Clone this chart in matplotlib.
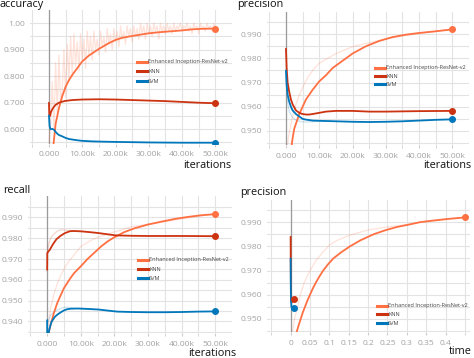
import matplotlib
matplotlib.use("Agg")
import matplotlib.pyplot as plt
from matplotlib.lines import Line2D

plt.rcParams['font.family'] = ['Open Sans', 'DejaVu Sans']

W, H = 474, 358
C_ENH = '#ff7043'
C_KNN = '#cc3311'
C_SVM = '#0077bb'
series_names = ['Enhanced Inception-ResNet-v2', 'KNN', 'SVM']

# ---------------- accuracy (iterations, thousands) ----------------
acc_raw_x = [i * 0.5 for i in range(101)]
acc_raw_enh = [
    0.55, 0.62, 0.78, 0.60, 0.85, 0.66, 0.88, 0.70, 0.75, 0.90,
    0.72, 0.92, 0.78, 0.95, 0.80, 0.96, 0.84, 0.93, 0.82, 0.96,
    0.86, 0.94, 0.83, 0.97, 0.88, 0.95, 0.86, 0.97, 0.90, 0.94,
    0.88, 0.97, 0.91, 0.95, 0.89, 0.98, 0.92, 0.96, 0.90, 0.98,
    0.93, 0.97, 0.91, 0.99, 0.94, 0.97, 0.92, 0.99, 0.95, 0.98,
    0.93, 0.99, 0.95, 0.98, 0.94, 1.00, 0.96, 0.99, 0.94, 1.00,
    0.96, 0.99, 0.95, 1.00, 0.97, 0.99, 0.94, 1.00, 0.97, 0.99,
    0.96, 1.00, 0.97, 0.99, 0.96, 1.00, 0.97, 0.99, 0.98, 1.00,
    0.97, 0.99, 0.98, 1.00, 0.97, 0.99, 0.96, 1.00, 0.98, 0.99,
    0.96, 1.00, 0.98, 0.99, 0.97, 1.00, 0.98, 0.99, 0.97, 1.00,
    0.98]
acc_enh_x = [0.5, 1, 1.5, 2, 3, 4, 5, 6, 7, 8, 10, 12, 15, 18, 20, 22, 25, 28, 30, 33, 36, 40, 43, 46, 50]
acc_enh = [0.45, 0.50, 0.56, 0.62, 0.68, 0.725, 0.76, 0.785, 0.805, 0.822, 0.856, 0.878, 0.903, 0.925,
           0.937, 0.945, 0.952, 0.958, 0.962, 0.966, 0.969, 0.973, 0.977, 0.979, 0.980]
acc_knn_x = [0, 0.1, 0.3, 0.6, 1, 1.5, 2, 3, 4, 5, 7, 10, 15, 20, 25, 30, 35, 40, 45, 50]
acc_knn = [0.700, 0.655, 0.650, 0.665, 0.675, 0.685, 0.692, 0.700, 0.704, 0.707, 0.710, 0.712, 0.713,
           0.712, 0.710, 0.708, 0.706, 0.703, 0.700, 0.698]
acc_svm_x = [0, 0.2, 0.5, 1, 1.5, 2, 2.5, 3, 4, 5, 6, 8, 10, 13, 16, 20, 25, 30, 40, 50]
acc_svm = [0.652, 0.610, 0.600, 0.601, 0.598, 0.590, 0.583, 0.578, 0.573, 0.567, 0.563, 0.559, 0.556,
           0.554, 0.553, 0.552, 0.551, 0.550, 0.549, 0.549]

# ---------------- precision (iterations) ----------------
pre_enh_x = [1.0, 1.5, 2.0, 2.5, 3, 4, 5, 6, 7, 8, 10, 12, 14, 17, 20, 24, 28, 32, 36, 40, 45, 50]
pre_enh = [0.935, 0.942, 0.947, 0.951, 0.953, 0.957, 0.960, 0.963, 0.965, 0.967, 0.9705, 0.973, 0.976,
           0.979, 0.982, 0.985, 0.9872, 0.9888, 0.9898, 0.9905, 0.9912, 0.992]
pre_enh_raw_x = [0.3, 0.8, 1.5, 2.5, 3.5, 5, 6.5, 8, 10, 12.5, 15, 20, 25, 30, 35, 40, 45, 50]
pre_enh_raw = [0.942, 0.948, 0.953, 0.959, 0.963, 0.968, 0.972, 0.975, 0.978, 0.980, 0.982, 0.9848,
               0.9865, 0.988, 0.9892, 0.9903, 0.9912, 0.9921]
pre_knn_x = [0, 0.2, 0.5, 1, 1.5, 2, 3, 4, 5, 6, 7, 8, 10, 12, 15, 20, 25, 30, 40, 50]
pre_knn = [0.984, 0.976, 0.970, 0.966, 0.963, 0.961, 0.9585, 0.9575, 0.957, 0.9568, 0.9568, 0.957,
           0.9575, 0.958, 0.9583, 0.9583, 0.958, 0.958, 0.9582, 0.9583]
pre_svm_x = [0, 0.2, 0.5, 1, 1.5, 2, 3, 4, 5, 6, 8, 10, 15, 20, 25, 30, 35, 40, 45, 50]
pre_svm = [0.975, 0.969, 0.965, 0.962, 0.960, 0.9585, 0.957, 0.956, 0.955, 0.9547, 0.9543, 0.9542,
           0.954, 0.9538, 0.9537, 0.9538, 0.954, 0.9543, 0.9546, 0.9548]
pre_svm_raw_x = [0, 0.5, 1, 2, 3, 4, 5, 6, 8, 10, 15]
pre_svm_raw = [0.975, 0.962, 0.958, 0.9555, 0.9545, 0.954, 0.9538, 0.9537, 0.9538, 0.954, 0.954]

# ---------------- recall (iterations) ----------------
rec_enh_x = [0.3, 0.8, 1.3, 2, 3, 4, 5, 6, 7, 8, 10, 12, 14, 16, 18, 20, 23, 26, 30, 34, 38, 42, 46, 50]
rec_enh = [0.933, 0.9370, 0.9400, 0.9440, 0.9488, 0.9525, 0.9560, 0.9585, 0.9610, 0.9632, 0.9665,
           0.9700, 0.9730, 0.9760, 0.9785, 0.9805, 0.9830, 0.9848, 0.9866, 0.9880, 0.9893, 0.9903,
           0.9911, 0.9916]
rec_enh_raw_x = [0.3, 1, 2, 3, 4, 5, 6, 8, 10, 13, 16, 20, 25, 30, 35, 40, 45, 50]
rec_enh_raw = [0.938, 0.946, 0.953, 0.958, 0.962, 0.965, 0.968, 0.972, 0.976, 0.979, 0.981, 0.983,
               0.9855, 0.9868, 0.988, 0.9894, 0.9905, 0.9918]
rec_knn_x = [0, 0.05, 0.3, 0.8, 1.5, 2, 2.8, 4, 5.3, 6.8, 8, 10.3, 13, 15.3, 18, 20.3, 25, 30, 40, 50]
rec_knn = [0.9648, 0.9729, 0.9735, 0.9745, 0.9765, 0.9778, 0.9796, 0.9812, 0.9825, 0.9834, 0.9835,
           0.9833, 0.9829, 0.9825, 0.9819, 0.9814, 0.9812, 0.9811, 0.9811, 0.9810]
rec_knn_raw_x = [0, 0.3, 1, 2, 3, 4, 5, 6, 7, 8, 10]
rec_knn_raw = [0.972, 0.976, 0.980, 0.982, 0.9835, 0.984, 0.984, 0.9838, 0.9836, 0.9835, 0.9833]
rec_svm_x = [0, 0.02, 0.3, 0.7, 1.3, 2.3, 3.0, 3.8, 4.8, 5.8, 7, 9.3, 12, 15.3, 18, 20.8, 25, 30, 35,
             40, 45, 50]
rec_svm = [0.9406, 0.933, 0.933, 0.9365, 0.9398, 0.9422, 0.9432, 0.9441, 0.9451, 0.9458, 0.9461,
           0.9462, 0.9460, 0.9457, 0.9452, 0.9447, 0.9445, 0.9444, 0.9444, 0.9445, 0.9447, 0.9448]
rec_svm_raw_x = [0.3, 1, 2, 3, 4, 5, 6, 7, 8, 10, 15]
rec_svm_raw = [0.940, 0.943, 0.9445, 0.9455, 0.9462, 0.9467, 0.9468, 0.9466, 0.9463, 0.946, 0.9457]

# ---------------- precision (time) ----------------
tim_enh_x = [0.012, 0.0155, 0.02, 0.026, 0.031, 0.037, 0.043, 0.05, 0.057, 0.065, 0.074, 0.084, 0.096,
             0.11, 0.13, 0.153, 0.18, 0.214, 0.245, 0.274, 0.305, 0.334, 0.37, 0.41, 0.451]
tim_enh = [0.940, 0.9446, 0.947, 0.950, 0.9525, 0.955, 0.9575, 0.960, 0.9625, 0.965, 0.9675, 0.970,
           0.9725, 0.975, 0.9775, 0.980, 0.9825, 0.985, 0.9867, 0.988, 0.989, 0.990, 0.9907, 0.9914, 0.992]
tim_enh_raw_x = [0.005, 0.01, 0.018, 0.025, 0.035, 0.05, 0.065, 0.08, 0.1, 0.12, 0.15, 0.2, 0.25, 0.3,
                 0.35, 0.4, 0.451]
tim_enh_raw = [0.945, 0.950, 0.955, 0.960, 0.965, 0.970, 0.974, 0.977, 0.9805, 0.9825, 0.9845, 0.9868,
               0.988, 0.989, 0.9905, 0.9914, 0.992]
tim_knn_x = [0, 0.0003, 0.0006, 0.001, 0.0015, 0.002, 0.003, 0.004, 0.006, 0.0095]
tim_knn = [0.984, 0.972, 0.965, 0.961, 0.9585, 0.957, 0.9568, 0.9575, 0.958, 0.9584]
tim_svm_x = [0, 0.0005, 0.001, 0.002, 0.004, 0.006, 0.009]
tim_svm = [0.975, 0.962, 0.958, 0.955, 0.954, 0.9538, 0.9546]

iter_ticks = [0, 10, 20, 30, 40, 50]
iter_labels = ['0.000', '10.00k', '20.00k', '30.00k', '40.00k', '50.00k']
iter_minor = [-5, 5, 15, 25, 35, 45]
time_ticks = [0, 0.05, 0.1, 0.15, 0.2, 0.25, 0.3, 0.35, 0.4]
time_labels = ['0', '0.05', '0.1', '0.15', '0.2', '0.25', '0.3', '0.35', '0.4']
time_minor = [-0.05, 0.45]
acc_yticks = [0.6, 0.7, 0.8, 0.9, 1.0]
acc_ylabels = ['0.600', '0.700', '0.800', '0.900', '1.00']
acc_yminor = [0.55, 0.65, 0.75, 0.85, 0.95]
pre_yticks = [0.95, 0.96, 0.97, 0.98, 0.99]
pre_ylabels = ['0.950', '0.960', '0.970', '0.980', '0.990']
pre_yminor = [0.945, 0.955, 0.965, 0.975, 0.985, 0.995]
rec_yticks = [0.94, 0.95, 0.96, 0.97, 0.98, 0.99]
rec_ylabels = ['0.940', '0.950', '0.960', '0.970', '0.980', '0.990']
rec_yminor = [0.935, 0.945, 0.955, 0.965, 0.975, 0.985, 0.995]

fig = plt.figure(figsize=(W / 100, H / 100), dpi=100)


def make_ax(l, t, r, b):
    return fig.add_axes([l / W, 1 - b / H, (r - l) / W, (b - t) / H])


def style(ax, xlim, ylim, xt, xl, xm, yt, yl, ym):
    ax.set_xlim(*xlim)
    ax.set_ylim(*ylim)
    for s in ax.spines.values():
        s.set_visible(False)
    ax.set_xticks(xt)
    ax.set_xticklabels(xl)
    ax.set_xticks(xm, minor=True)
    ax.set_yticks(yt)
    ax.set_yticklabels(yl)
    ax.set_yticks(ym, minor=True)
    ax.grid(True, which='both', color='#e3e3e3', lw=0.8)
    ax.set_axisbelow(True)
    ax.tick_params(axis='x', which='both', length=2.5, color='#cccccc', labelsize=6.1,
                   labelcolor='#a3a3a3', pad=3.2)
    ax.tick_params(axis='y', which='both', length=0, labelsize=6.1, labelcolor='#a3a3a3', pad=3.5)
    ax.axvline(0, color='#9a9a9a', lw=0.9, zorder=1)


def curve(ax, x, y, c, raw=False, lw=1.3, end=True):
    if raw:
        ax.plot(x, y, color=c, lw=0.9, alpha=0.2, zorder=2)
    else:
        ax.plot(x, y, color=c, lw=lw, zorder=3, solid_capstyle='round')
        if end:
            ax.plot([x[-1]], [y[-1]], 'o', color=c, ms=4, zorder=4)


def legend(ax, xpx, ypx, spacing):
    handles = [Line2D([], [], color=c, lw=2.2) for c in (C_ENH, C_KNN, C_SVM)]
    ax.legend(handles, series_names, loc='upper left', bbox_to_anchor=(xpx / W, 1 - ypx / H),
              bbox_transform=fig.transFigure, frameon=False, fontsize=4.1, labelcolor='#444444',
              handlelength=1.7, handletextpad=0.25, borderpad=0, borderaxespad=0,
              labelspacing=spacing)


# Panel 1: accuracy
ax1 = make_ax(30, 10, 232, 143.5)
style(ax1, (-5.7, 55), (0.546, 1.05), iter_ticks, iter_labels, iter_minor,
      acc_yticks, acc_ylabels, acc_yminor)
curve(ax1, acc_raw_x, acc_raw_enh, C_ENH, raw=True)
curve(ax1, acc_enh_x, acc_enh, C_ENH)
curve(ax1, acc_knn_x, acc_knn, C_KNN)
curve(ax1, acc_svm_x, acc_svm, C_SVM)
legend(ax1, 137, 59.5, 0.85)

# Panel 2: precision vs iterations
ax2 = make_ax(267, 11.7, 469, 145)
style(ax2, (-5.7, 55), (0.9442, 0.9993), iter_ticks, iter_labels, iter_minor,
      pre_yticks, pre_ylabels, pre_yminor)
curve(ax2, pre_enh_raw_x, pre_enh_raw, C_ENH, raw=True)
curve(ax2, pre_svm_raw_x, pre_svm_raw, C_SVM, raw=True)
curve(ax2, pre_enh_x, pre_enh, C_ENH)
curve(ax2, pre_knn_x, pre_knn, C_KNN)
curve(ax2, pre_svm_x, pre_svm, C_SVM)
legend(ax2, 375, 65.5, 0.6)

# Panel 3: recall
ax3 = make_ax(28, 196.3, 232, 333)
style(ax3, (-5.7, 55), (0.9344, 1.0002), iter_ticks, iter_labels, iter_minor,
      rec_yticks, rec_ylabels, rec_yminor)
curve(ax3, rec_enh_raw_x, rec_enh_raw, C_ENH, raw=True)
curve(ax3, rec_knn_raw_x, rec_knn_raw, C_KNN, raw=True)
curve(ax3, rec_svm_raw_x, rec_svm_raw, C_SVM, raw=True)
curve(ax3, rec_enh_x, rec_enh, C_ENH)
curve(ax3, rec_knn_x, rec_knn, C_KNN)
curve(ax3, rec_svm_x, rec_svm, C_SVM)
legend(ax3, 138, 257.5, 0.75)

# Panel 4: precision vs time
ax4 = make_ax(267, 199.7, 470, 332)
style(ax4, (-0.061, 0.463), (0.9446, 0.9993), time_ticks, time_labels, time_minor,
      pre_yticks, pre_ylabels, pre_yminor)
curve(ax4, tim_enh_raw_x, tim_enh_raw, C_ENH, raw=True)
curve(ax4, tim_enh_x, tim_enh, C_ENH)
curve(ax4, tim_knn_x, tim_knn, C_KNN)
curve(ax4, tim_svm_x, tim_svm, C_SVM)
legend(ax4, 377, 303.5, 0.7)

# Titles and axis names
def ftext(xpx, ypx, s, ha='left', size=7.8):
    fig.text(xpx / W, 1 - ypx / H, s, ha=ha, va='baseline', fontsize=size, color='#111111')

ftext(-1, 7.5, 'accuracy')
ftext(237, 7.5, 'precision')
ftext(3, 193, 'recall')
ftext(240, 194.5, 'precision')
ftext(231, 168, 'iterations', ha='right')
ftext(471, 168, 'iterations', ha='right')
ftext(236, 355.5, 'iterations', ha='right')
ftext(472, 354.5, 'time', ha='right')

fig.savefig('out.png', dpi=100)
